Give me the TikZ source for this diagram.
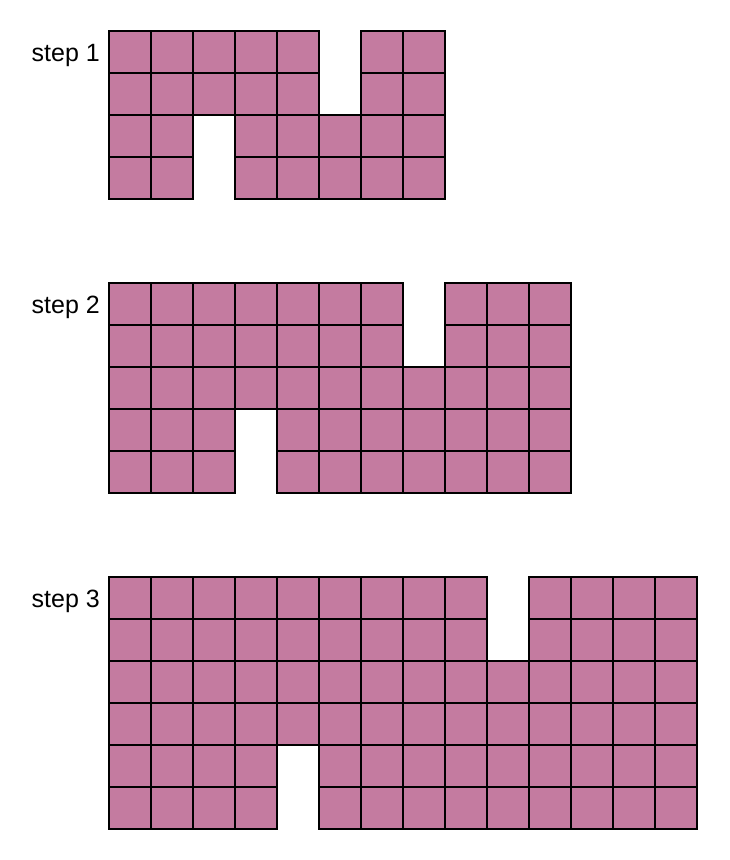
\documentclass[tikz,border=0pt]{standalone}
\usepackage{fontspec}
\setmainfont{Liberation Sans}
\usepackage{tikz}
\usetikzlibrary{positioning}
\definecolor{cmauve}{RGB}{196,123,160}

% one grid of cells: x0, y0, columns, rows, top gap column, bottom gap column
\newcommand{\stepgrid}[6]{%
  \foreach \c in {1,...,#3}
    \foreach \r in {1,...,#4} {
      \pgfmathtruncatemacro{\hole}{(\c==#5 && \r<=2) || (\c==#6 && \r>#4-2)}
      \ifnum\hole=0
        \draw[cell] ({#1+(\c-1)*42},{#2+(\r-1)*42}) rectangle +(42,42);
      \fi
    }}

\begin{document}
\begin{tikzpicture}[x=1pt,y=-1pt,
  cell/.style={fill=cmauve,draw=black,line width=2pt},
  step label/.style={font=\fontsize{25}{30}\selectfont,anchor=base east,inner sep=0pt}]
  \useasboundingbox (0,0) rectangle (730,860);

  \node[step label] (step1) at (100,61) {step 1};
  \stepgrid{109}{31}{8}{4}{6}{3}

  \node[step label] (step2) at (100,313) {step 2};
  \stepgrid{109}{283}{11}{5}{8}{4}

  \node[step label] (step3) at (100,607) {step 3};
  \stepgrid{109}{577}{14}{6}{10}{5}
\end{tikzpicture}
\end{document}
